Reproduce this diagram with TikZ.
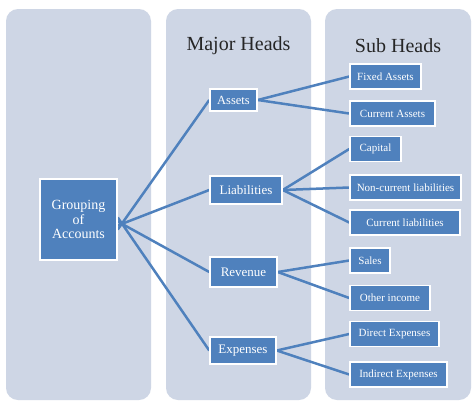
\documentclass[tikz,border=0pt]{standalone}
\usepackage{fontspec}
\setmainfont{Liberation Serif}
\usetikzlibrary{backgrounds}
\definecolor{panelc}{RGB}{206,214,229}
\definecolor{boxc}{RGB}{79,129,189}
\tikzset{
  panel/.style={fill=panelc, draw=none, rounded corners=12pt},
  bx/.style={fill=boxc, draw=white, line width=1.5pt, text=white, inner sep=0pt, align=center},
  majorbox/.style={bx, font=\fontsize{13}{14}\selectfont},
  subbox/.style={bx, minimum height=25pt, font=\fontsize{11}{12}\selectfont},
  conn/.style={draw=boxc, line width=2.5pt},
  ttl/.style={font=\fontsize{20}{22}\selectfont, text=black!85}
}
\begin{document}
\begin{tikzpicture}[x=1pt,y=-1pt]
\begin{pgfonlayer}{background}
\path[fill=white] (0,0) rectangle (474,405);
\path[panel] (6,9) rectangle (151,400);
\path[panel] (166,9) rectangle (311,400);
\path[panel] (325,9) rectangle (471,400);
\end{pgfonlayer}
\useasboundingbox (0,0) rectangle (474,405);
% titles
\node[ttl] (t1) at (238.5,46) {Major Heads};
\node[ttl] (t2) at (398,46) {Sub Heads};
% root
\node[bx, minimum width=77pt, minimum height=81pt, font=\fontsize{14}{14.5}\selectfont] (G) at (78.5,219.5) {Grouping\\of\\Accounts};
% major heads
\node[majorbox, minimum width=47pt, minimum height=22pt, font=\fontsize{12.5}{14}\selectfont] (A) at (233.5,100) {Assets};
\node[majorbox, minimum width=72pt, minimum height=28pt] (L) at (246,190) {Liabilities};
\node[majorbox, minimum width=67pt, minimum height=30pt] (R) at (243.5,272) {Revenue};
\node[majorbox, minimum width=66pt, minimum height=27pt] (E) at (243,350.5) {Expenses};
% sub heads
\node[subbox, minimum width=71pt] (s1) at (385.5,76.5) {Fixed Assets};
\node[subbox, minimum width=85pt] (s2) at (392.5,113.5) {Current Assets};
\node[subbox, minimum width=51pt] (s3) at (375.5,149) {Capital};
\node[subbox, minimum width=111pt] (s4) at (405.5,187.5) {Non-current liabilities};
\node[subbox, minimum width=110pt] (s5) at (405,222.5) {Current liabilities};
\node[subbox, minimum width=40pt] (s6) at (370,260.5) {Sales};
\node[subbox, minimum width=80pt] (s7) at (390,298) {Other income};
\node[subbox, minimum width=89pt] (s8) at (394.5,334) {Direct Expenses};
\node[subbox, minimum width=97pt] (s9) at (398.5,374.5) {Indirect Expenses};
% connectors
\begin{pgfonlayer}{background}
\draw[conn] ([yshift=-10pt]G.east) -- (A.west);
\draw[conn] ([yshift=-6pt]G.east) -- (L.west);
\draw[conn] ([yshift=-2pt]G.east) -- (R.west);
\draw[conn] ([yshift=2pt]G.east) -- (E.west);
\draw[conn] (A.east) -- (s1.west);
\draw[conn] (A.east) -- (s2.west);
\draw[conn] (L.east) -- (s3.west);
\draw[conn] (L.east) -- (s4.west);
\draw[conn] (L.east) -- (s5.west);
\draw[conn] (R.east) -- (s6.west);
\draw[conn] (R.east) -- (s7.west);
\draw[conn] (E.east) -- (s8.west);
\draw[conn] (E.east) -- (s9.west);
\end{pgfonlayer}
\end{tikzpicture}
\end{document}
